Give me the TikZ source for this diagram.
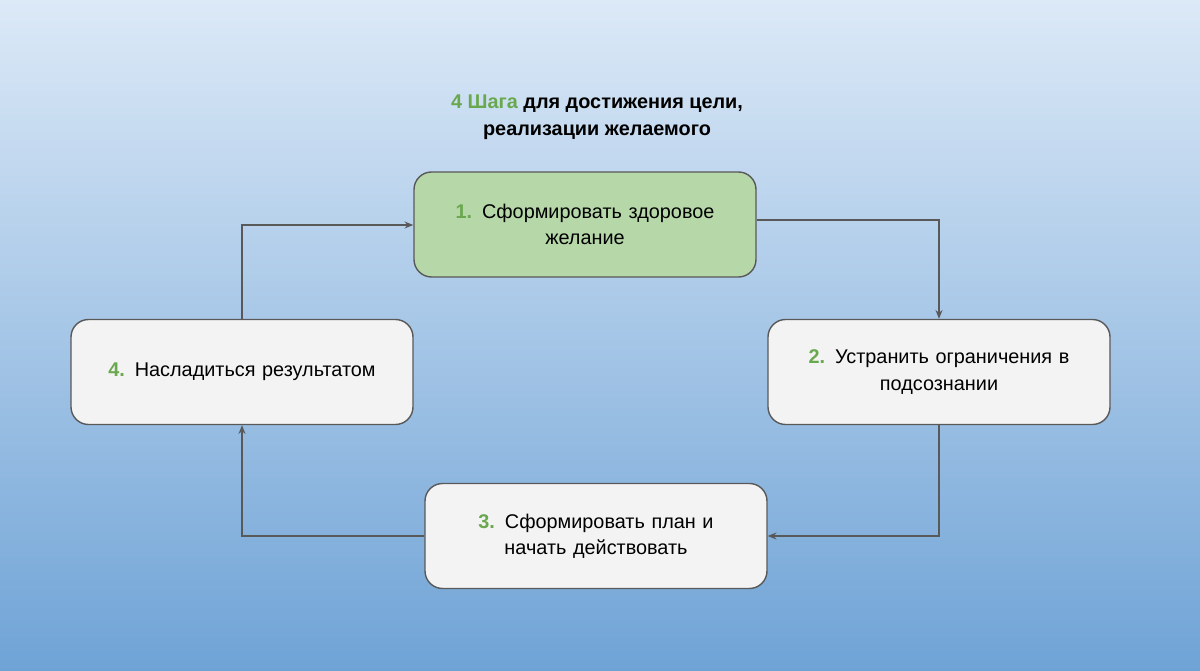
\documentclass[tikz,border=0pt]{standalone}
\usepackage{fontspec}
\setmainfont{Liberation Sans}
\usetikzlibrary{arrows.meta}
\definecolor{bgtop}{HTML}{DCE9F7}
\definecolor{bgbot}{HTML}{6FA3D6}
\definecolor{grn}{HTML}{6AA84F}
\definecolor{boxg}{HTML}{B6D7A8}
\definecolor{boxw}{HTML}{F3F3F3}
\definecolor{edge}{HTML}{595959}
\tikzset{
  stepbox/.style={draw=edge, line width=0.8pt, rounded corners=10pt, fill=boxw, minimum width=342*0.02cm, minimum height=105*0.02cm, align=center, text width=300*0.02cm, font=\fontsize{11.3}{15}\selectfont, inner sep=0pt},
  link/.style={draw=edge, line width=0.7pt, -{Stealth[length=5pt,width=4pt]}},
  num/.style={}
}
\newcommand{\gn}[1]{\textcolor{grn}{\textbf{#1}}}
\begin{document}
\begin{tikzpicture}[x=0.02cm,y=-0.02cm]
\shade[top color=bgtop, bottom color=bgbot] (0,0) rectangle (1200,671);
\useasboundingbox (0,0) rectangle (1200,671);
\node (t) at (597,117) [align=center, font=\fontsize{11.3}{15.5}\selectfont\bfseries] {\textcolor{grn}{4 Шага} для достижения цели,\\реализации желаемого};
\node[stepbox, fill=boxg] (b1) at (585,224.5) {\gn{1.} Сформировать здоровое\\желание};
\node[stepbox] (b2) at (939,372) {\gn{2.} Устранить ограничения в\\подсознании};
\node[stepbox] (b3) at (596,536) {\gn{3.} Сформировать план и\\начать действовать};
\node[stepbox] (b4) at (242,372) {\gn{4.} Насладиться результатом};
\draw[link] (b1.east |- 0,220) -| (b2.north);
\draw[link] (b2.south) |- (b3.east);
\draw[link] (b3.west) -| (b4.south);
\draw[link] (b4.north) |- (b1.west |- 0,225);
\end{tikzpicture}
\end{document}
